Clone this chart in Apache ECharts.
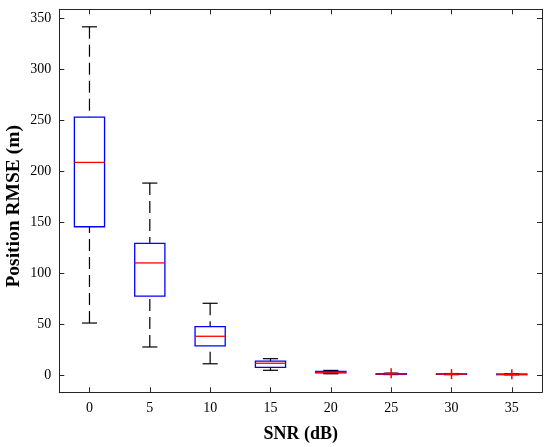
<!DOCTYPE html>
<html>
<head>
<meta charset="utf-8">
<script src="https://cdn.jsdelivr.net/npm/echarts@6/dist/echarts.min.js"></script>
<style>
html,body{margin:0;padding:0;background:#fff;}
#chart{width:550px;height:447px;}
</style>
</head>
<body>
<div id="chart"></div>
<script>
// ---- data ----
var categories = ['0', '5', '10', '15', '20', '25', '30', '35'];
var whiskerLow = [51, 27.5, 11, 4.6, 1.2, 0.4, 0.3, 0.2];
var quartile1  = [145.5, 77.5, 28.5, 7.5, 2.0, 0.7, 0.5, 0.3];
var medians    = [208.7, 110, 38, 11.5, 2.7, 1.0, 0.8, 0.6];
var quartile3  = [253.2, 129.2, 47.4, 13.7, 3.5, 1.3, 1.0, 0.9];
var whiskerHigh= [341.8, 188.4, 70.4, 16, 4.5, 1.8, 1.4, 1.2];
var outlierCats   = [5, 6, 7];
var outlierValues = [1.6, 0.9, 0.7];
var yTicks = [0, 50, 100, 150, 200, 250, 300, 350];
var yMin = -17, yMax = 359;

var boxData = categories.map(function (c, i) {
  return [i, whiskerLow[i], quartile1[i], medians[i], quartile3[i], whiskerHigh[i]];
});
var outlierData = outlierCats.map(function (c, i) { return [c, outlierValues[i]]; });

var axisColor = '#262626';
var font = 'Liberation Serif, Times New Roman, serif';

function renderBox(params, api) {
  var x = api.value(0);
  var band = api.size([1, 0])[0];
  var bw = band * 0.5, cw = band * 0.25;
  var pLow = api.coord([x, api.value(1)]);
  var pQ1 = api.coord([x, api.value(2)]);
  var pMed = api.coord([x, api.value(3)]);
  var pQ3 = api.coord([x, api.value(4)]);
  var pHigh = api.coord([x, api.value(5)]);
  var cx = pMed[0];
  var dash = { stroke: '#000', lineWidth: 1.2, lineDash: [12, 6] };
  var solid = { stroke: '#000', lineWidth: 1.2 };
  return {
    type: 'group',
    children: [
      { type: 'line', shape: { x1: cx, y1: pHigh[1], x2: cx, y2: pQ3[1] }, style: dash },
      { type: 'line', shape: { x1: cx, y1: pLow[1], x2: cx, y2: pQ1[1] }, style: dash },
      { type: 'line', shape: { x1: cx - cw / 2, y1: pHigh[1], x2: cx + cw / 2, y2: pHigh[1] }, style: solid },
      { type: 'line', shape: { x1: cx - cw / 2, y1: pLow[1], x2: cx + cw / 2, y2: pLow[1] }, style: solid },
      { type: 'rect', shape: { x: cx - bw / 2, y: pQ3[1], width: bw, height: Math.max(pQ1[1] - pQ3[1], 0.5) },
        style: { fill: 'none', stroke: '#0000ff', lineWidth: 1.3 } },
      { type: 'line', shape: { x1: cx - bw / 2, y1: pMed[1], x2: cx + bw / 2, y2: pMed[1] },
        style: { stroke: '#ff0000', lineWidth: 1.3 } }
    ]
  };
}

function renderOutlier(params, api) {
  var p = api.coord([api.value(0), api.value(1)]);
  var s = 5;
  var st = { stroke: '#ff0000', lineWidth: 1.5 };
  return {
    type: 'group',
    children: [
      { type: 'line', shape: { x1: p[0] - s, y1: p[1], x2: p[0] + s, y2: p[1] }, style: st },
      { type: 'line', shape: { x1: p[0], y1: p[1] - s, x2: p[0], y2: p[1] + s }, style: st }
    ]
  };
}

var axisLineStyle = { show: true, onZero: false, lineStyle: { color: axisColor, width: 1 } };

var chart = echarts.init(document.getElementById('chart'), null, { renderer: 'canvas' });
chart.setOption({
  animation: false,
  backgroundColor: '#fff',
  grid: { left: 59.3, right: 8, top: 9.3, bottom: 54.7, containLabel: false, outerBoundsMode: 'none' },
  xAxis: [{
    type: 'category',
    data: categories,
    boundaryGap: true,
    position: 'bottom',
    name: 'SNR (dB)',
    nameLocation: 'middle',
    nameGap: 33,
    nameMoveOverlap: false,
    nameTextStyle: { fontFamily: font, fontWeight: 'bold', fontSize: 18, color: '#000' },
    axisLine: axisLineStyle,
    axisTick: { show: true, inside: true, length: 5, alignWithLabel: true, lineStyle: { color: axisColor } },
    axisLabel: { fontFamily: font, fontSize: 14, color: '#000', margin: 9 },
    splitLine: { show: false }
  }, {
    type: 'category',
    data: categories,
    position: 'top',
    boundaryGap: true,
    axisLine: axisLineStyle,
    axisTick: { show: true, inside: true, length: 5, alignWithLabel: true, lineStyle: { color: axisColor } },
    axisLabel: { show: false },
    splitLine: { show: false }
  }],
  yAxis: [{
    type: 'value',
    min: yMin, max: yMax,
    position: 'left',
    name: 'Position RMSE (m)',
    nameLocation: 'middle',
    nameGap: 35,
    nameMoveOverlap: false,
    nameTextStyle: { fontFamily: font, fontWeight: 'bold', fontSize: 19.5, color: '#000', padding: [0, 11, 0, 0] },
    axisLine: axisLineStyle,
    axisTick: { show: true, inside: true, length: 5, customValues: yTicks, lineStyle: { color: axisColor } },
    axisLabel: { fontFamily: font, fontSize: 14, color: '#000', margin: 8, customValues: yTicks },
    splitLine: { show: false }
  }, {
    type: 'value',
    min: yMin, max: yMax,
    position: 'right',
    axisLine: axisLineStyle,
    axisTick: { show: true, inside: true, length: 5, customValues: yTicks, lineStyle: { color: axisColor } },
    axisLabel: { show: false },
    splitLine: { show: false }
  }],
  series: [{
    type: 'custom',
    xAxisIndex: 0, yAxisIndex: 0,
    renderItem: renderBox,
    encode: { x: 0, y: [1, 2, 3, 4, 5] },
    data: boxData,
    clip: false
  }, {
    type: 'custom',
    xAxisIndex: 0, yAxisIndex: 0,
    renderItem: renderOutlier,
    encode: { x: 0, y: 1 },
    data: outlierData,
    z: 5
  }]
});
</script>
</body>
</html>
